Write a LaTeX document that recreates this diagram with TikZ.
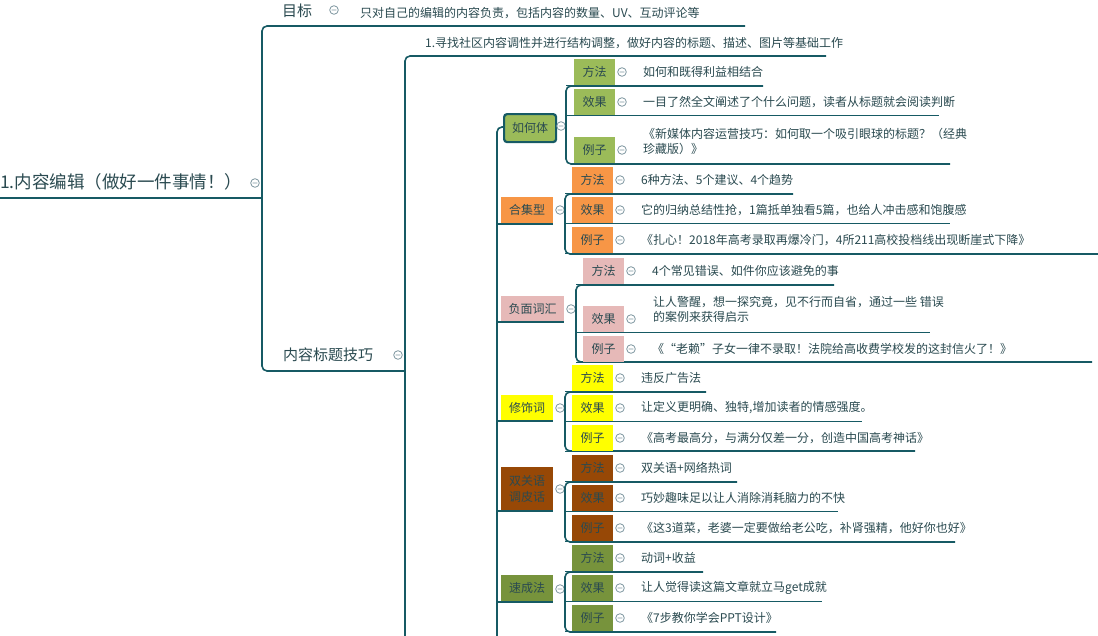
\documentclass[tikz,border=0pt]{standalone}
\usepackage{fontspec}
\setmainfont{Noto Sans CJK SC}
\begin{document}
\begin{tikzpicture}[x=1pt,y=-1pt,
  ln/.style={draw=lc,line width=1.6pt},
  tx/.style={text=tc,font=\fontsize{12}{15}\selectfont,inner sep=0pt,anchor=west},
  bx/.style={minimum width=41pt,minimum height=26pt,inner sep=0pt,anchor=north west,font=\fontsize{12}{14}\selectfont,text=tc},
  cb/.style={minimum height=26pt,inner sep=2pt,anchor=north west,font=\fontsize{12}{14}\selectfont,text=tc,align=center}]
\definecolor{lc}{HTML}{165A64}
\definecolor{tc}{HTML}{2A4A50}
\definecolor{cg}{HTML}{7E97A0}
\definecolor{cgreen}{HTML}{9BBB59}
\definecolor{corange}{HTML}{F79646}
\definecolor{cpink}{HTML}{E6B9B8}
\definecolor{cyellow}{HTML}{FFFF00}
\definecolor{cbrown}{HTML}{974806}
\definecolor{colive}{HTML}{77933C}
\useasboundingbox[fill=white] (0,0) rectangle (1098,635);
\newcommand\minus[2]{\draw[cg,line width=0.8pt] (#1,#2) circle (4.3) (#1-2.3,#2) -- (#1+2.3,#2);}
% #1 xbox #2 ytop #3 fill #4 label #5 xv #6 uend #7 text #8 name
\newcommand\leafnode[8]{%
  \node[bx,fill=#3] (#8b) at (#1,#2) {#4};
  \pgfmathsetmacro\cy{#2+13}\pgfmathsetmacro\by{#2+26.5}\pgfmathsetmacro\cx{#1+48}\pgfmathsetmacro\tx{#1+69}
  \minus{\cx}{\cy}
  \node[tx,align=left] (#8t) at (\tx,\cy) {#7};
  \coordinate (#8u) at (#6,\by);
  \draw[ln] (#5,\by) -- (#8u);}
% root
\node[text=tc,font=\fontsize{17.5}{20}\selectfont,inner sep=0pt,anchor=west] (root) at (0,182) {1.内容编辑（做好一件事情！）};
\minus{255}{183}
\coordinate (rootu) at (0,198);
\draw[ln] (rootu) -- (262,198);
\draw[ln,rounded corners=5] (745,26) -- (262,26) -- (262,371) -- (405,371);
\node[tx,font=\fontsize{15}{17}\selectfont] (goal) at (282,11) {目标};
\minus{334}{10}
\node[tx] (goalt) at (360,13) {只对自己的编辑的内容负责，包括内容的数量、UV、互动评论等};
\node[tx,font=\fontsize{15}{17}\selectfont] (tech) at (283,355) {内容标题技巧};
\minus{398}{355}
\draw[ln,rounded corners=5] (826,56) -- (405,56) -- (405,640);
\node[tx] (first) at (425,43) {1.寻找社区内容调性并进行结构调整，做好内容的标题、描述、图片等基础工作};
% main category vertical
\draw[ln,rounded corners=5] (503,127) -- (497,127) -- (497,640);
% 如何体
\node[cb,fill=cgreen,draw=lc,line width=2.2pt,rounded corners=3,minimum width=52pt,minimum height=28pt] (c1) at (503,113) {如何体};
\minus{561}{126}
\draw[ln,rounded corners=5] (763,86) -- (566,86) -- (566,164) -- (950,164);
\leafnode{574}{59}{cgreen}{方法}{566}{763}{如何和既得利益相结合}{a1}
\leafnode{574}{89}{cgreen}{效果}{566}{939}{一目了然全文阐述了个什么问题，读者从标题就会阅读判断}{a2}
\node[bx,fill=cgreen] (a3b) at (574,137) {例子};
\minus{622}{150}
\node[tx,align=left] (a3t) at (643,141) {《新媒体内容运营技巧：如何取一个吸引眼球的标题？（经典\\珍藏版）》};
% 合集型
\node[cb,fill=corange,minimum width=52pt] (c2) at (501,197) {合集型};
\minus{560}{210}
\draw[ln] (497,224) -- (553,224);
\draw[ln,rounded corners=5] (793,194) -- (565,194) -- (565,254) -- (1098,254);
\leafnode{572}{167}{corange}{方法}{565}{793}{6种方法、5个建议、4个趋势}{b1}
\leafnode{572}{197}{corange}{效果}{565}{950}{它的归纳总结性抢，1篇抵单独看5篇，也给人冲击感和饱腹感}{b2}
\leafnode{572}{227}{corange}{例子}{565}{1098}{《扎心！2018年高考录取再爆冷门，4所211高校投档线出现断崖式下降》}{b3}
% 负面词汇
\node[cb,fill=cpink,minimum width=63pt] (c3) at (501,296) {负面词汇};
\minus{571}{309}
\draw[ln] (497,322) -- (564,322);
\draw[ln,rounded corners=5] (834,285) -- (576,285) -- (576,362) -- (1092,362);
\leafnode{583}{258}{cpink}{方法}{576}{834}{4个常见错误、如件你应该避免的事}{d1}
\node[bx,fill=cpink] (d2b) at (583,306) {效果};
\minus{631}{319}
\node[tx,align=left] (d2t) at (653,309) {让人警醒，想一探究竟，见不行而自省，通过一些 错误\\的案例来获得启示};
\draw[ln] (576,332.5) -- (930,332.5);
\leafnode{583}{336}{cpink}{例子}{576}{1092}{《“老赖”子女一律不录取！法院给高收费学校发的这封信火了！》}{d3}
% 修饰词
\node[cb,fill=cyellow,minimum width=52pt] (c4) at (501,395) {修饰词};
\minus{560}{408}
\draw[ln] (497,421) -- (553,421);
\draw[ln,rounded corners=5] (706,392) -- (565,392) -- (565,451) -- (915,451);
\leafnode{572}{365}{cyellow}{方法}{565}{706}{违反广告法}{e1}
\leafnode{572}{395}{cyellow}{效果}{565}{862}{让定义更明确、独特,增加读者的情感强度。}{e2}
\leafnode{572}{425}{cyellow}{例子}{565}{915}{《高考最高分，与满分仅差一分，创造中国高考神话》}{e3}
% 双关语
\node[cb,fill=cbrown,minimum width=52pt,minimum height=44pt,font=\fontsize{12}{16}\selectfont] (c5) at (501,467) {双关语\\调皮话};
\minus{560}{489}
\draw[ln] (497,511) -- (553,511);
\draw[ln,rounded corners=5] (737,482) -- (565,482) -- (565,542) -- (955,542);
\leafnode{572}{455}{cbrown}{方法}{565}{737}{双关语+网络热词}{f1}
\leafnode{572}{485}{cbrown}{效果}{565}{838}{巧妙趣味足以让人消除消耗脑力的不快}{f2}
\leafnode{572}{515}{cbrown}{例子}{565}{955}{《这3道菜，老婆一定要做给老公吃，补肾强精，他好你也好》}{f3}
% 速成法
\node[cb,fill=colive,minimum width=52pt] (c6) at (501,575) {速成法};
\minus{560}{589}
\draw[ln] (497,602) -- (553,602);
\draw[ln,rounded corners=5] (703,572) -- (565,572) -- (565,632) -- (776,632);
\leafnode{572}{545}{colive}{方法}{565}{703}{动词+收益}{g1}
\leafnode{572}{575}{colive}{效果}{565}{822}{让人觉得读这篇文章就立马get成就}{g2}
\leafnode{572}{605}{colive}{例子}{565}{776}{《7步教你学会PPT设计》}{g3}
\end{tikzpicture}
\end{document}
